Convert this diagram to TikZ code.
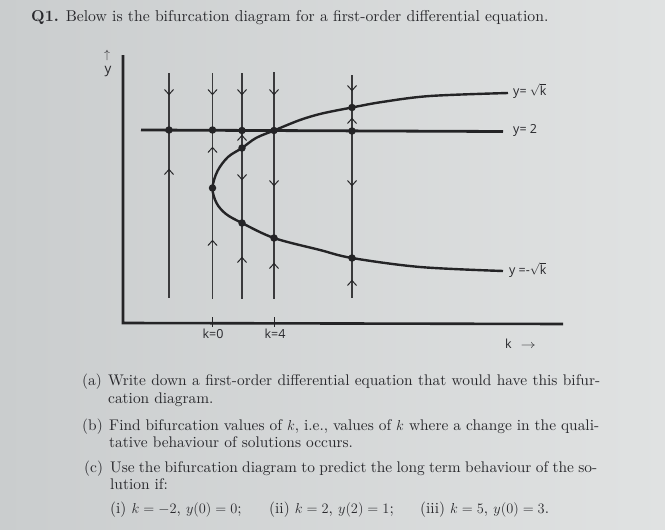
\documentclass[tikz,border=0pt]{standalone}
\usepackage{fontspec}
\setmainfont{lmroman10-regular}[Extension=.otf, BoldFont=lmroman10-bold, ItalicFont=lmroman10-italic, BoldItalicFont=lmroman10-bolditalic]
\newfontfamily\labfont{Open Sans}
\definecolor{inkc}{RGB}{36,36,38}
\definecolor{textc}{RGB}{40,40,44}
\definecolor{bgl}{RGB}{202,205,206}
\definecolor{bgr}{RGB}{224,226,226}
\begin{document}
\begin{tikzpicture}[x=1pt,y=-1pt,
  axisline/.style={line width=2.6pt, draw=inkc},
  vline/.style={line width=1.3pt, draw=inkc!90},
  curveline/.style={line width=2.4pt, draw=inkc},
  dotnode/.style={circle, fill=inkc, inner sep=0pt, minimum size=7.5pt},
  chev/.style={line width=1pt, draw=inkc},
  dn/.pic={\draw[chev] (-4.5,-2.5) -- (0,2.5) -- (4.5,-2.5);},
  up/.pic={\draw[chev] (-4.5,2.5) -- (0,-2.5) -- (4.5,2.5);},
  qtext/.style={anchor=base west, inner sep=0pt, font=\fontsize{15.4}{18}\selectfont, text=textc},
  lab/.style={inner sep=0pt, font=\labfont\fontsize{12.5}{14}\selectfont, text=textc}]
\useasboundingbox (0,0) rectangle (665,530);
\shade[left color=bgl, right color=bgr] (0,0) rectangle (665,530);

% title
\node[qtext, font=\fontsize{15.7}{19}\selectfont] (title) at (31,21) {\textbf{Q1.} Below is the bifurcation diagram for a first-order differential equation.};

% axes
\coordinate (ytop) at (123,55);
\coordinate (orig) at (123,323);
\coordinate (xend) at (563,324);
\draw[axisline] (ytop) -- (orig) -- (xend);
\node[lab] (yarr) at (107,55) {$\uparrow$};
\node[lab, font=\labfont\fontsize{13.5}{15}\selectfont] (ylab) at (108,72) {y};
\node[lab, anchor=west] (klab) at (505,344) {k\hspace{9pt}\scalebox{1.25}[1]{$\rightarrow$}};

% ticks
\coordinate (t0a) at (212.5,317); \coordinate (t0b) at (212.5,327);
\coordinate (t4a) at (274.5,317); \coordinate (t4b) at (274.5,327);
\draw[line width=1pt, draw=inkc] (t0a) -- (t0b);
\draw[line width=1pt, draw=inkc] (t4a) -- (t4b);
\node[lab] (k0) at (213,334) {k=0};
\node[lab] (k4) at (275,334) {k=4};

% vertical phase lines
\foreach \i/\x/\t/\b in {1/169/73/298, 2/212.5/73/299, 3/242/73/299, 4/274/72/299, 5/352/75/298}{
  \coordinate (v\i t) at (\x,\t);
  \coordinate (v\i b) at (\x,\b);
  \draw[vline] (v\i t) -- (v\i b);
}

% y = 2 line
\coordinate (hl) at (141,130);
\coordinate (hr) at (503,131.5);
\draw[axisline, line width=2.8pt] (hl) -- (hr);
\node[lab, anchor=west] (l2) at (513,130) {y= 2};

% parabola
\draw[curveline] plot[smooth, tension=0.55] coordinates {
  (503,271) (420,267) (352,258) (320,250) (274,238) (242,223) (226,214) (216.5,203)
  (212.5,188)
  (217.5,171) (228,157) (242,148) (256,138) (274,130.5) (300,120) (322,113.5) (352,107.5) (382,102) (430,96) (508,93)};
\node[lab, anchor=west] (lup) at (513,91) {y= $\sqrt{\hbox{k}}$};
\node[lab, anchor=west] (ldn) at (509,270) {y =-$\sqrt{\hbox{k}}$};

% equilibria
\node[dotnode] (e1) at (169,130) {};
\node[dotnode] (e2) at (212.5,130) {};
\node[dotnode] (e3) at (212.5,188) {};
\node[dotnode] (e4) at (242,130.5) {};
\node[dotnode] (e5) at (242,148) {};
\node[dotnode] (e6) at (242,223) {};
\node[dotnode] (e7) at (274,130.5) {};
\node[dotnode] (e8) at (274,238) {};
\node[dotnode] (e9) at (352,107.5) {};
\node[dotnode] (e10) at (352,131) {};
\node[dotnode] (e11) at (352,258) {};

% flow arrows
\pic at (169,92) {dn};   \pic at (169,172) {up};
\pic at (212.5,92) {dn}; \pic at (212.5,150) {up}; \pic at (212.5,243) {up};
\pic at (242,92) {dn};   \pic at (242,138) {up};   \pic at (242,177) {dn}; \pic at (242,260) {up};
\pic at (274,92) {dn};   \pic at (274,183) {dn};   \pic at (274,266) {up};
\pic at (352,88) {dn};   \pic at (352,121) {up};   \pic at (352,183) {dn}; \pic at (352,283) {up};

% questions
\node[qtext] (qa) at (82,385) {(a)};
\node[qtext] (qa1) at (108,385) {\hbox to 492pt{Write down a first-order differential equation that would have this bifur-}};
\node[qtext] (qa2) at (108,403) {cation diagram.};
\node[qtext] (qb) at (82,430) {(b)};
\node[qtext] (qb1) at (109,430) {\hbox to 490pt{Find bifurcation values of $k$, i.e., values of $k$ where a change in the quali-}};
\node[qtext] (qb2) at (109,447) {tative behaviour of solutions occurs.};
\node[qtext] (qc) at (84,472) {(c)};
\node[qtext] (qc1) at (110,472) {\hbox to 487pt{Use the bifurcation diagram to predict the long term behaviour of the so-}};
\node[qtext] (qc2) at (110,489) {lution if:};
\node[qtext] (qc3) at (110,513) {(i) $k=-2$, $y(0)=0$;};
\node[qtext] (qc4) at (269,513) {(ii) $k=2$, $y(2)=1$;};
\node[qtext] (qc5) at (420,513) {(iii) $k=5$, $y(0)=3$.};
\end{tikzpicture}
\end{document}
